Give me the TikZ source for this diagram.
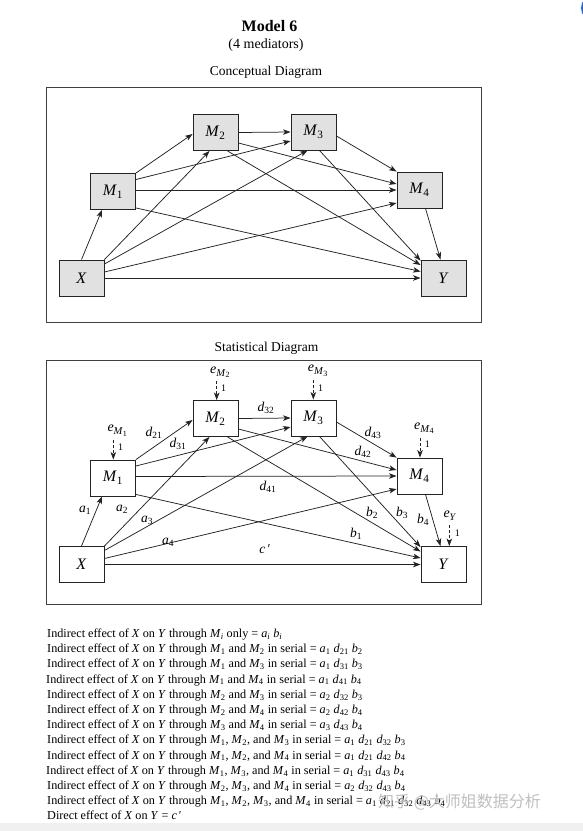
\documentclass[tikz,border=0pt]{standalone}
\usepackage{fontspec}
\setmainfont{Liberation Serif}
\newfontfamily\cjkfont{Noto Sans CJK SC}
\usetikzlibrary{arrows.meta,calc}
\definecolor{zblue}{RGB}{40,100,215}
\definecolor{boxgray}{RGB}{225,225,225}
\definecolor{ink}{RGB}{35,35,35}
\newcommand\Vi[1]{\textit{#1}}
\newcommand\Mv[1]{\textit{M}\textsubscript{#1}}
\newcommand\av[1]{\textit{a}\textsubscript{#1}}
\newcommand\bv[1]{\textit{b}\textsubscript{#1}}
\newcommand\dv[1]{\textit{d}\textsubscript{#1}}
\newcommand\eMv[1]{\textit{e}\raisebox{-0.45ex}{\fontsize{10.5}{12}\selectfont\textit{M}\raisebox{-0.35ex}{\fontsize{8}{9}\selectfont #1}}}
\newcommand\eYv{\textit{e}\raisebox{-0.45ex}{\fontsize{10}{12}\selectfont\textit{Y}}}
\newcommand\IE{Indirect effect of \Vi{X} on \Vi{Y} through }
\newcommand\modeledges[1]{%
  \draw[arr] (#1X.north) -- ($(#1M1.south)+(-11,0)$);
  \draw[arr] (#1M1.north east) -- ($(#1M2.west)+(0,1.5)$);
  \draw[arr] ($(#1M1.east)+(0,-12)$) -- ($(#1M3.west)+(0,9)$);
  \draw[arr] ($(#1M1.east)+(0,-1.5)$) -- (#1M4.west);
  \draw[arr] ($(#1M1.south east)+(0,-2)$) -- ($(#1Y.west)+(0,-6.5)$);
  \draw[arr] (#1M2.east) -- (#1M3.west);
  \draw[arr] ($(#1M2.east)+(0,10.5)$) -- ($(#1M4.west)+(0,-6)$);
  \draw[arr] ($(#1M2.south)+(12,0)$) -- ($(#1Y.west)+(0,-13)$);
  \draw[arr] ($(#1M3.east)+(0,4)$) -- (#1M4.north west);
  \draw[arr] ($(#1M3.south)+(6,0)$) -- ($(#1Y.north west)+(0,1)$);
  \draw[arr] ($(#1M4.south)+(6,0)$) -- ($(#1Y.north)+(-3,0)$);
  \draw[arr] (#1X.north east) -- ($(#1M2.south)+(-6,0)$);
  \draw[arr] ($(#1X.east)+(0,-14)$) -- ($(#1M3.south)+(-6,0)$);
  \draw[arr] ($(#1X.east)+(0,-6)$) -- ($(#1M4.west)+(0,13)$);
  \draw[arr] (#1X.east) -- (#1Y.west);
}
\begin{document}
\begin{tikzpicture}[x=1pt,y=-1pt,
  box/.style={draw=ink, line width=0.9pt, minimum width=45pt, minimum height=36pt, inner sep=0pt, font=\fontsize{16}{18}\selectfont},
  cbox/.style={box, fill=boxgray},
  sbox/.style={box, fill=white},
  arr/.style={-{Stealth[length=7.5pt,width=5.5pt,inset=2pt]}, line width=0.75pt, draw=ink},
  err/.style={arr, dash pattern=on 3pt off 2pt},
  lab/.style={font=\fontsize{13.5}{15}\selectfont, inner sep=0pt},
  elab/.style={font=\fontsize{14}{15}\selectfont, inner sep=0pt, anchor=base west},
  one/.style={font=\fontsize{10}{11}\selectfont, inner sep=0pt},
  frame/.style={draw=black!75, line width=0.9pt},
  txt/.style={anchor=base west, inner sep=0pt, font=\fontsize{12.2}{14}\selectfont}]
\useasboundingbox (0,0) rectangle (583,831);
\fill[white] (0,0) rectangle (583,831);
\fill[black!6] (0,823) rectangle (583,831);
\begin{scope}
  \clip (0,0) rectangle (583,831);
  \fill[zblue] (594,8) circle (13);
\end{scope}

% titles
\node[anchor=base, font=\bfseries\fontsize{16}{18}\selectfont] (t1) at (269.5,31) {Model 6};
\node[anchor=base, font=\fontsize{14}{16}\selectfont] (t2) at (266,48.5) {(4 mediators)};
\node[anchor=base, font=\fontsize{13.5}{16}\selectfont] (t3) at (266,75.5) {Conceptual Diagram};
\node[anchor=base, font=\fontsize{13.5}{16}\selectfont] (t4) at (266.5,351.5) {Statistical Diagram};

% conceptual diagram
\draw[frame] (46,87) rectangle (481,322);
\node[cbox] (cX) at (81.5,278) {\Vi{X}};
\node[cbox] (cY) at (443.5,278) {\Vi{Y}};
\node[cbox] (cM1) at (113,191.5) {\Mv{1}};
\node[cbox] (cM2) at (215.5,132.5) {\Mv{2}};
\node[cbox] (cM3) at (313.5,132) {\Mv{3}};
\node[cbox] (cM4) at (419.5,190) {\Mv{4}};
\modeledges{c}

% statistical diagram
\draw[frame] (46,360) rectangle (481,604);
\node[sbox] (sX) at (81.5,564.5) {\Vi{X}};
\node[sbox] (sY) at (443.5,564.5) {\Vi{Y}};
\node[sbox] (sM1) at (113,478) {\Mv{1}};
\node[sbox] (sM2) at (215.5,418.5) {\Mv{2}};
\node[sbox] (sM3) at (313.5,418) {\Mv{3}};
\node[sbox] (sM4) at (419.5,476) {\Mv{4}};
\modeledges{s}

% error terms
\node[elab] (eM1) at (107.3,431.7) {\eMv{1}};
\coordinate (eM1a) at (113.3,440);
\draw[err] (eM1a) -- (eM1a |- sM1.north);
\node[one] (oM1) at (120.7,447) {1};
\node[elab] (eM2) at (210,373.3) {\eMv{2}};
\coordinate (eM2a) at (216.7,381);
\draw[err] (eM2a) -- (eM2a |- sM2.north);
\node[one] (oM2) at (223.7,388.3) {1};
\node[elab] (eM3) at (307.7,371.7) {\eMv{3}};
\coordinate (eM3a) at (313.3,379.5);
\draw[err] (eM3a) -- (eM3a |- sM3.north);
\node[one] (oM3) at (320.7,388.3) {1};
\node[elab] (eM4) at (414,429.3) {\eMv{4}};
\coordinate (eM4a) at (420,438);
\draw[err] (eM4a) -- (eM4a |- sM4.north);
\node[one] (oM4) at (427.3,444) {1};
\node[elab] (eY) at (443.3,517.3) {\eYv};
\coordinate (eYa) at (449.3,525);
\draw[err] (eYa) -- (eYa |- sY.north);
\node[one] (oY) at (457.3,532.7) {1};

% path labels
\node[lab] (ld21) at (154,433) {\dv{21}};
\node[lab] (ld31) at (178,444) {\dv{31}};
\node[lab] (ld32) at (266,408) {\dv{32}};
\node[lab] (ld43) at (373,433) {\dv{43}};
\node[lab] (ld42) at (363,452) {\dv{42}};
\node[lab] (ld41) at (268,487) {\dv{41}};
\node[lab] (la1) at (85,510) {\av{1}};
\node[lab] (la2) at (122,509) {\av{2}};
\node[lab] (la3) at (147,520) {\av{3}};
\node[lab] (la4) at (168,542) {\av{4}};
\node[lab] (lc) at (265,549) {\textit{c}\,′};
\node[lab] (lb1) at (356,534) {\bv{1}};
\node[lab] (lb2) at (372,513) {\bv{2}};
\node[lab] (lb3) at (402,513) {\bv{3}};
\node[lab] (lb4) at (423,520) {\bv{4}};

% effects
\node[txt] (l1) at (47,637.5) {\IE\Mv{\textit{i}} only = \av{\textit{i}} \bv{\textit{i}}};
\node[txt] (l2) at (47,652.7) {\IE\Mv{1} and \Mv{2} in serial = \av{1} \dv{21} \bv{2}};
\node[txt] (l3) at (47,667.9) {\IE\Mv{1} and \Mv{3} in serial = \av{1} \dv{31} \bv{3}};
\node[txt] (l4) at (46,683.1) {\IE\Mv{1} and \Mv{4} in serial = \av{1} \dv{41} \bv{4}};
\node[txt] (l5) at (47,698.3) {\IE\Mv{2} and \Mv{3} in serial = \av{2} \dv{32} \bv{3}};
\node[txt] (l6) at (47,713.5) {\IE\Mv{2} and \Mv{4} in serial = \av{2} \dv{42} \bv{4}};
\node[txt] (l7) at (47,728.7) {\IE\Mv{3} and \Mv{4} in serial = \av{3} \dv{43} \bv{4}};
\node[txt] (l8) at (47,743.9) {\IE\Mv{1}, \Mv{2}, and \Mv{3} in serial = \av{1} \dv{21} \dv{32} \bv{3}};
\node[txt] (l9) at (47,759.1) {\IE\Mv{1}, \Mv{2}, and \Mv{4} in serial = \av{1} \dv{21} \dv{42} \bv{4}};
\node[txt] (l10) at (46,774.3) {\IE\Mv{1}, \Mv{3}, and \Mv{4} in serial = \av{1} \dv{31} \dv{43} \bv{4}};
\node[txt] (l11) at (47,789.5) {\IE\Mv{2}, \Mv{3}, and \Mv{4} in serial = \av{2} \dv{32} \dv{43} \bv{4}};
\node[txt] (l12) at (47,804.7) {\IE\Mv{1}, \Mv{2}, \Mv{3}, and \Mv{4} in serial = \av{1} \dv{21} \dv{32} \dv{43} \bv{4}};
\node[txt] (l13) at (47,819.9) {Direct effect of \Vi{X} on \Vi{Y} = \textit{c}\,′};
\node[anchor=west, inner sep=0pt, font=\cjkfont\fontsize{16}{18}\selectfont, text=black!25] (wm) at (378,802) {知乎 @大师姐数据分析};
\end{tikzpicture}
\end{document}
